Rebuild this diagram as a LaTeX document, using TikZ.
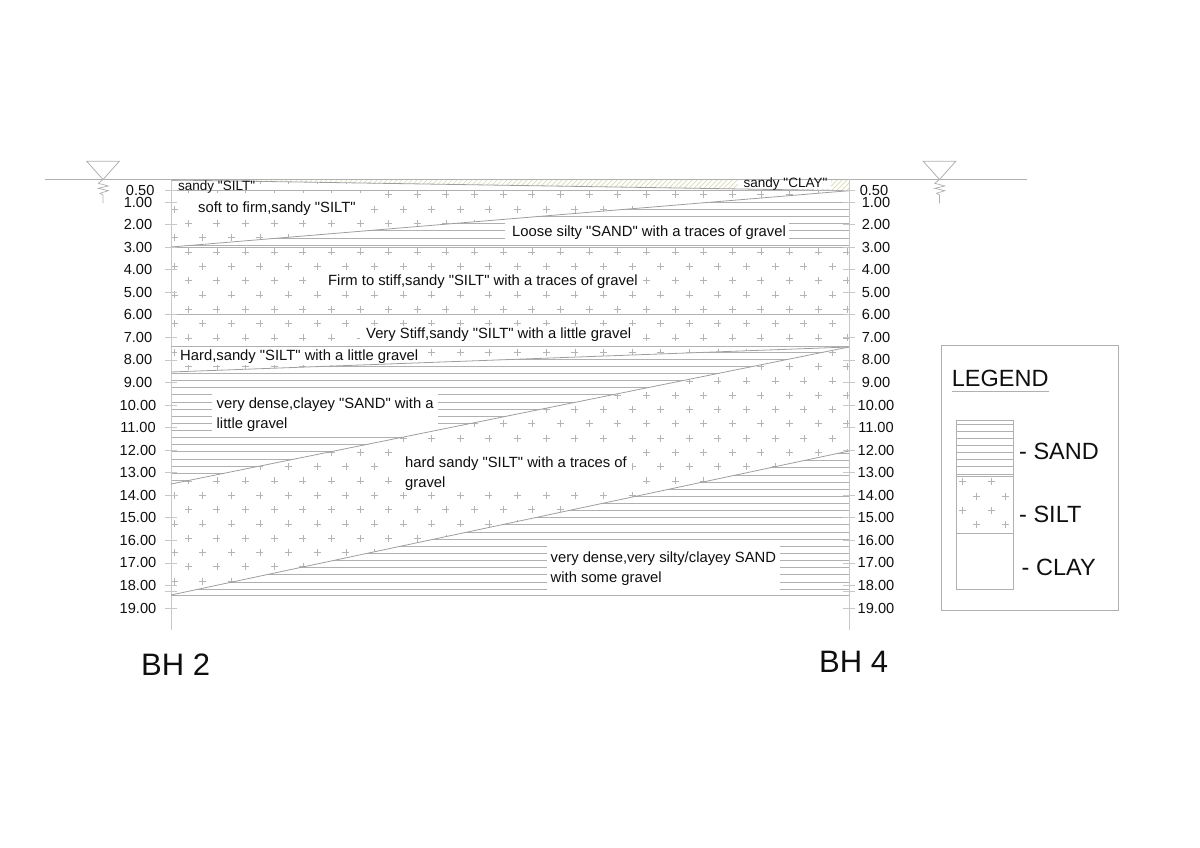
\documentclass[tikz,border=0pt]{standalone}
\usepackage{fontspec}
\newfontfamily\arialf{Liberation Sans}
\definecolor{inkc}{HTML}{0F0F0F}
\definecolor{linec}{HTML}{B0B0B0}
\definecolor{axisc}{HTML}{C8C8C8}
\definecolor{plusc}{HTML}{B4B4B4}
\definecolor{clayc}{HTML}{DAD9B4}
\definecolor{boundc}{HTML}{9E9E9E}
\tikzset{
  geo/.style={draw=linec,line width=0.8pt},
  bound/.style={draw=boundc,line width=0.8pt},
  axisline/.style={draw=axisc,line width=0.8pt},
  sandline/.style={draw=linec,line width=0.7pt},
  plusmark/.style={draw=plusc,line width=0.55pt},
  mask/.style={fill=white,draw=none},
  depth/.style={text=inkc,inner sep=0pt,anchor=center,font=\arialf\fontsize{14.6}{16}\selectfont},
  lbl/.style={text=inkc,inner sep=0pt,anchor=west,yshift=-1.2pt,font=\arialf\fontsize{14.8}{17}\selectfont},
  lblsm/.style={text=inkc,inner sep=0pt,anchor=west,yshift=-1pt,font=\arialf\fontsize{13.5}{15}\selectfont},
  big/.style={text=inkc,inner sep=0pt,anchor=west,font=\arialf\fontsize{23.5}{26}\selectfont},
  bh/.style={text=inkc,inner sep=0pt,anchor=west,font=\arialf\fontsize{31}{34}\selectfont},
}
\begin{document}
\begin{tikzpicture}[x=1pt,y=-1pt]
\useasboundingbox (0,0) rectangle (1200,848);
% clay hatch
\begin{scope}
  \clip (171,179.5) -- (849,179.5) -- (849,190.7) -- (171,180) -- cycle;
  \foreach \i in {0,...,140} {
    \pgfmathsetmacro{\hx}{165+5*\i}
    \draw[draw=clayc,line width=0.7pt] (\hx,192) -- (\hx+12.5,179.5);
  }
\end{scope}
% silt pattern
\begin{scope}
  \clip (171,180) -- (849,190.7) -- (171,247) -- cycle
        (171,247) rectangle (849,346.7)
        (171,346.7) -- (849,346.7) -- (171,372) -- cycle
        (171,484) -- (849,347) -- (849,451) -- (171,595) -- cycle;
  \foreach \i in {0,...,23} {
    \foreach \j in {0,...,15} {
      \pgfmathsetmacro{\ax}{174+28.63*\i}
      \pgfmathsetmacro{\ay}{180.5+28.62*\j}
      \pgfmathsetmacro{\bx}{188.3+28.63*\i}
      \pgfmathsetmacro{\by}{194.7+28.62*\j}
      \draw[plusmark] (\ax-3.5,\ay) -- (\ax+3.5,\ay) (\ax,\ay-3.5) -- (\ax,\ay+3.5);
      \draw[plusmark] (\bx-3.5,\by) -- (\bx+3.5,\by) (\bx,\by-3.5) -- (\bx,\by+3.5);
    }
  }
\end{scope}
% sand pattern
\begin{scope}
  \clip (171,247) -- (849,190.7) -- (849,247) -- cycle;
  \foreach \k in {0,...,6} {
    \pgfmathsetmacro{\sy}{202.3+7.13*\k}
    \draw[sandline] (171,\sy) -- (849,\sy);
  }
\end{scope}
\begin{scope}
  \clip (171,372) -- (849,347) -- (171,484) -- cycle;
  \foreach \k in {-4,...,16} {
    \pgfmathsetmacro{\sy}{373.4+7.13*\k}
    \draw[sandline] (171,\sy) -- (849,\sy);
  }
\end{scope}
\begin{scope}
  \clip (171,595) -- (849,451) -- (849,595) -- cycle;
  \foreach \k in {0,...,20} {
    \pgfmathsetmacro{\sy}{589-7.13*\k}
    \draw[sandline] (171,\sy) -- (849,\sy);
  }
\end{scope}
% white text masks
\fill[mask] (173,181) rectangle (258,190);
\fill[mask] (180,193.5) rectangle (365,217);
\fill[mask] (738,180) rectangle (831,188.7);
\fill[mask] (505,220) rectangle (789,241.5);
\fill[mask] (322,270) rectangle (642,290);
\fill[mask] (360,326) rectangle (637,345);
\fill[mask] (177,348) rectangle (422,365);
\fill[mask] (212,391) rectangle (438,435);
\fill[mask] (397,447) rectangle (632,490);
\fill[mask] (546.7,542) rectangle (780,592);
% boundaries
\draw[geo] (45,179.5) -- (1027,179.5);
\draw[axisline] (171,179.5) -- (171,630);
\draw[axisline] (849,179.5) -- (849,630);
\draw[bound] (171,180) -- (849,190.7);
\draw[geo] (171,190.7) -- (849,190.7);
\draw[bound] (171,247) -- (849,190.7);
\draw[geo] (171,247) -- (849,247);
\draw[geo] (171,314.8) -- (849,314.8);
\draw[geo] (171,346.7) -- (849,346.7);
\draw[bound] (171,372) -- (849,347);
\draw[bound] (171,484) -- (849,347);
\draw[bound] (171,595) -- (849,451);
\draw[geo] (171,595) -- (849,595);
% ticks and depth labels
\foreach \d in {0.50,1.00,2.00,3.00,4.00,5.00,6.00,7.00,8.00,9.00,10.00,11.00,12.00,13.00,14.00,15.00,16.00,17.00,18.00,19.00} {
  \pgfmathsetmacro{\ty}{202+(\d-1)*22.56}
  \draw[axisline] (165,\ty) -- (177,\ty);
  \draw[axisline] (843,\ty) -- (855,\ty);
}
\draw[axisline] (165,591) -- (177,591);
\draw[axisline] (843,591) -- (855,591);
\node[depth] (la) at (140.2,190.7) {0.50};
\node[depth] (ra) at (874,190.7) {0.50};
\foreach \d/\nm in {1.00/b,2.00/c,3.00/d,4.00/e,5.00/f,6.00/g,7.00/h,8.00/i,9.00/j,10.00/k,11.00/l,12.00/m,13.00/n,14.00/o,15.00/p,16.00/q,17.00/r,18.00/s,19.00/t} {
  \pgfmathsetmacro{\ty}{202+(\d-1)*22.56}
  \node[depth] (l\nm) at (138,\ty) {\d};
  \node[depth] (r\nm) at (876,\ty) {\d};
}
% water table symbols
\foreach \ox in {0,836.5} {
  \begin{scope}[xshift=\ox pt]
    \draw[geo,line join=miter] (86.7,161.3) -- (119.3,161.3) -- (103,179.5) -- cycle;
    \draw[geo,line width=0.7pt] (103,179.5) -- (98.3,183.3) -- (108.3,186) -- (98.3,188.3) -- (108.3,190.7) -- (100,193.3) -- (103,195) -- (103,203.3);
  \end{scope}
}
% layer labels
\node[lblsm] (t1) at (178,186.3) {sandy "SILT"};
\node[lblsm] (t2) at (743.5,183.3) {sandy "CLAY"};
\node[lbl] (t3) at (198,207.5) {soft to firm,sandy "SILT"};
\node[lbl] (t4) at (512,231.5) {Loose silty "SAND" with a traces of gravel};
\node[lbl] (t5) at (328,280) {Firm to stiff,sandy "SILT" with a traces of gravel};
\node[lbl] (t6) at (366,333) {Very Stiff,sandy "SILT" with a little gravel};
\node[lbl] (t7) at (180,355) {Hard,sandy "SILT" with a little gravel};
\node[lbl] (t8) at (216.5,403.5) {very dense,clayey "SAND" with a};
\node[lbl] (t9) at (216.5,423.5) {little gravel};
\node[lbl] (t10) at (405,462) {hard sandy "SILT" with a traces of};
\node[lbl] (t11) at (405,482) {gravel};
\node[lbl] (t12) at (550.5,557) {very dense,very silty/clayey SAND};
\node[lbl] (t13) at (550.5,577.5) {with some gravel};
% borehole names
\node[bh] (bh2) at (141,665) {BH 2};
\node[bh] (bh4) at (819,661.5) {BH 4};
% legend
\draw[geo] (941.7,345.7) rectangle (1118.3,610);
\node[big] (legt) at (951.7,378.5) {LEGEND};
\draw[geo] (951.7,391) -- (1048.7,391);
\begin{scope}
  \clip (956.7,420) rectangle (1013.3,476.7);
  \foreach \k in {0,...,7} {
    \pgfmathsetmacro{\sy}{424+7.13*\k}
    \draw[sandline] (956.7,\sy) -- (1013.3,\sy);
  }
\end{scope}
\foreach \px/\py in {962.3/481.7,991/481.7,976.7/496,1005.3/496,962.3/510.3,991/510.3,976.7/524.5,1005.3/524.5} {
  \draw[plusmark] (\px-3.5,\py) -- (\px+3.5,\py) (\px,\py-3.5) -- (\px,\py+3.5);
}
\draw[geo] (956.7,420) rectangle (1013.3,589.3);
\draw[geo] (956.7,476.7) -- (1013.3,476.7);
\draw[geo] (956.7,533.3) -- (1013.3,533.3);
\node[big] (leg1) at (1019,451) {- SAND};
\node[big] (leg2) at (1019,514.5) {- SILT};
\node[big] (leg3) at (1021.5,567) {- CLAY};
\end{tikzpicture}
\end{document}
